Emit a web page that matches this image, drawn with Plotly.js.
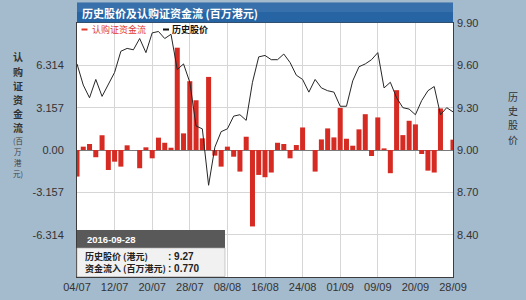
<!DOCTYPE html>
<html><head><meta charset="utf-8">
<script src="https://cdn.plot.ly/plotly-3.0.1.min.js"></script>
<style>html,body{margin:0;padding:0;background:#a4bacd;} #chart{width:526px;height:300px;}</style>
</head><body><div id="chart"></div>
<script>
// Trading days (HK) 2016-07-04 .. 2016-09-28
const dates = [
 '2016-07-04','2016-07-05','2016-07-06','2016-07-07','2016-07-08',
 '2016-07-11','2016-07-12','2016-07-13','2016-07-14','2016-07-15',
 '2016-07-18','2016-07-19','2016-07-20','2016-07-21','2016-07-22',
 '2016-07-25','2016-07-26','2016-07-27','2016-07-28','2016-07-29',
 '2016-08-01','2016-08-03','2016-08-04','2016-08-05',
 '2016-08-08','2016-08-09','2016-08-10','2016-08-11','2016-08-12',
 '2016-08-15','2016-08-16','2016-08-17','2016-08-18','2016-08-19',
 '2016-08-22','2016-08-23','2016-08-24','2016-08-25','2016-08-26',
 '2016-08-29','2016-08-30','2016-08-31','2016-09-01','2016-09-02',
 '2016-09-05','2016-09-06','2016-09-07','2016-09-08','2016-09-09',
 '2016-09-12','2016-09-13','2016-09-14','2016-09-15',
 '2016-09-19','2016-09-20','2016-09-21','2016-09-22','2016-09-23',
 '2016-09-26','2016-09-27','2016-09-28'
];
// 认购证资金流 (百万港元)
const flows = [
 -1.98, 0.25, 0.45, -0.54, 1.10,
 -1.49, -0.87, -1.24, 0.35, 0.00,
 -1.36, 0.20, -0.62, 0.92, 0.54,
 0.17, 7.63, 1.24, 5.13, 3.71,
 0.87, 5.45, -0.42, -1.24,
 0.25, -0.50, -1.61, 0.99, -5.70,
 -1.86, -2.03, -1.68, 0.54, 0.45,
 -0.62, 0.37, 1.68, 0.00, -1.61,
 0.79, 1.61, 0.94, 3.14, 0.84,
 0.32, 1.54, 2.67, -0.45, 2.43,
 0.12, -1.73, 4.46, 1.11,
 2.18, 1.91, -0.30, -1.54, -1.68,
 3.10, 0.00, 0.770
];
// 历史股价 (港元)
const prices = [
 9.61, 9.46, 9.37, 9.50, 9.38,
 9.47, 9.55, 9.70, 9.72, 9.71,
 9.79, 9.69, 9.83, 9.84, 9.79,
 9.82, 9.57, 9.61, 9.48, 9.17,
 9.15, 8.75, 9.02, 9.13,
 9.15, 9.24, 9.25, 9.21, 9.48,
 9.66, 9.67, 9.64, 9.64, 9.68,
 9.62, 9.53, 9.50, 9.41, 9.50,
 9.44, 9.42, 9.41, 9.31, 9.31,
 9.49, 9.59, 9.61, 9.64, 9.69,
 9.44, 9.48, 9.37, 9.30,
 9.29, 9.25, 9.35, 9.42, 9.45,
 9.25, 9.30, 9.27
];
const flowTicks = [-6.314, -3.157, 0, 3.157, 6.314];
const flowTickLabels = ['-6.314', '-3.157', '0.00', '3.157', '6.314'];
const priceTicks = [8.40, 8.70, 9.00, 9.30, 9.60, 9.90];
const flowRange = [-9.471, 9.471];
const priceRange = [8.10, 9.90];

const leftTitle = ['认', '购', '证', '资', '金', '流'];
const leftUnit = ['(百', '万', '港', '元)'];
const rightTitle = ['历', '史', '股', '价'];

const tickDates = dates.filter((d, i) => i % 6 === 0);
const tickLabels = tickDates.map(d => d.slice(8, 10) + '/' + d.slice(5, 7));

// pixel helpers for decorations
const L = 77, T = 23, W = 376, H = 254;
const px = x => (x - L) / W;
const py = y => (T + H - y) / H;

const FONT = 'Arial, "Liberation Sans", "Noto Sans CJK SC", sans-serif';
const CJK = '"Noto Sans CJK SC", Arial, sans-serif';

const barTrace = {
  type: 'bar', x: dates, y: flows, yaxis: 'y', name: '认购证资金流',
  marker: {color: '#d52b22'}, hoverinfo: 'skip'
};
const lineTrace = {
  type: 'scatter', mode: 'lines', x: dates, y: prices, yaxis: 'y2', name: '历史股价',
  line: {color: '#262626', width: 1}, hoverinfo: 'skip'
};

const last = dates.length - 1;
const lastPrice = prices[last].toFixed(2);
const lastFlow = flows[last].toFixed(3);

const shapes = [
  {type: 'rect', xref: 'paper', yref: 'paper', x0: px(77), x1: px(453), y0: py(22.5), y1: py(2.5),
   fillcolor: '#2764a3', line: {width: 0}, layer: 'above'},
  {type: 'rect', xref: 'paper', yref: 'paper', x0: px(77), x1: px(453), y0: py(12), y1: py(2.5),
   fillcolor: 'rgba(255,255,255,0.08)', line: {width: 0}, layer: 'above'},
  {type: 'rect', xref: 'paper', yref: 'paper', x0: px(81.5), x1: px(87.5), y0: py(30.5), y1: py(28.5),
   fillcolor: '#e03a2e', line: {width: 0}, layer: 'above'},
  {type: 'rect', xref: 'paper', yref: 'paper', x0: px(163), x1: px(169), y0: py(30.5), y1: py(28.5),
   fillcolor: '#111', line: {width: 0}, layer: 'above'},
  {type: 'rect', xref: 'paper', yref: 'paper', x0: px(77), x1: px(225), y0: py(248), y1: py(230),
   fillcolor: '#595959', line: {width: 0}, layer: 'above'},
  {type: 'rect', xref: 'paper', yref: 'paper', x0: px(77), x1: px(225), y0: py(276.5), y1: py(248),
   fillcolor: '#f1f1f1', line: {width: 0.6, color: '#aaa'}, layer: 'above'}
];

const ann = (x, y, text, opts) => Object.assign({
  xref: 'paper', yref: 'paper', x: px(x), y: py(y), text: text, showarrow: false,
  xanchor: 'left', yanchor: 'middle', borderpad: 0, font: {family: CJK, size: 10, color: '#222'}
}, opts || {});

const annotations = [
  ann(81, 13, '<b>历史股价及认购证资金流 (百万港元)</b>', {font: {family: CJK, size: 11, color: '#fff'}}),
  ann(91, 29.5, '认购证资金流', {font: {family: CJK, size: 9, color: '#e03a2e'}}),
  ann(171, 29.5, '<b>历史股价</b>', {font: {family: CJK, size: 9, color: '#111'}}),
  ann(86, 239.5, '<b>' + dates[last] + '</b>', {font: {family: FONT, size: 9.5, color: '#fff'}}),
  ann(84, 256.5, '<b>历史股价 (港元)</b>', {font: {family: CJK, size: 9, color: '#222'}}),
  ann(167, 256.5, '<b>: ' + lastPrice + '</b>', {font: {family: FONT, size: 10, color: '#222'}}),
  ann(84, 268.5, '<b>资金流入 (百万港元)</b>', {font: {family: CJK, size: 9, color: '#222'}}),
  ann(167, 268.5, '<b>: ' + lastFlow + '</b>', {font: {family: FONT, size: 10, color: '#222'}})
];
leftTitle.forEach((c, i) => annotations.push(
  ann(18, 57 + i * 14, '<b>' + c + '</b>', {xanchor: 'center', font: {family: CJK, size: 10, color: '#333'}})));
leftUnit.forEach((c, i) => annotations.push(
  ann(18, 140 + i * 11, c, {xanchor: 'center', font: {family: CJK, size: 7.5, color: '#444'}})));
rightTitle.forEach((c, i) => annotations.push(
  ann(513, 96 + i * 14.5, c, {xanchor: 'center', font: {family: CJK, size: 10, color: '#333'}})));

const layout = {
  width: 526, height: 300,
  margin: {l: L, r: 526 - L - W, t: T, b: 300 - T - H, pad: 0},
  paper_bgcolor: '#a4bacd', plot_bgcolor: '#ffffff',
  showlegend: false, hovermode: false, bargap: 0.2,
  font: {family: FONT, size: 11, color: '#333'},
  xaxis: {
    type: 'category', range: [0, dates.length - 1], autorange: false,
    tickvals: tickDates, ticktext: tickLabels, showgrid: true, gridcolor: '#d6d6d6', gridwidth: 1,
    showline: true, linecolor: '#3c3c3c', linewidth: 1, mirror: true, ticks: '',
    tickfont: {family: FONT, size: 11, color: '#333'}, fixedrange: true
  },
  yaxis: {
    range: flowRange, autorange: false, tickvals: flowTicks, ticktext: flowTickLabels,
    showgrid: true, gridcolor: '#d6d6d6', zeroline: true, zerolinecolor: '#7a7a7a', zerolinewidth: 1,
    showline: true, linecolor: '#3c3c3c', linewidth: 1, mirror: true, ticks: '',
    ticklabelstandoff: 10, tickfont: {family: FONT, size: 11, color: '#333'}, fixedrange: true
  },
  yaxis2: {
    overlaying: 'y', side: 'right', range: priceRange, autorange: false,
    tickvals: priceTicks, tickformat: '.2f', showgrid: false, zeroline: false, ticks: '',
    ticklabelstandoff: 3, tickfont: {family: FONT, size: 11, color: '#333'}, fixedrange: true
  },
  shapes: shapes,
  annotations: annotations
};

Plotly.newPlot('chart', [barTrace, lineTrace], layout, {staticPlot: true, displayModeBar: false});
</script>
</body></html>
